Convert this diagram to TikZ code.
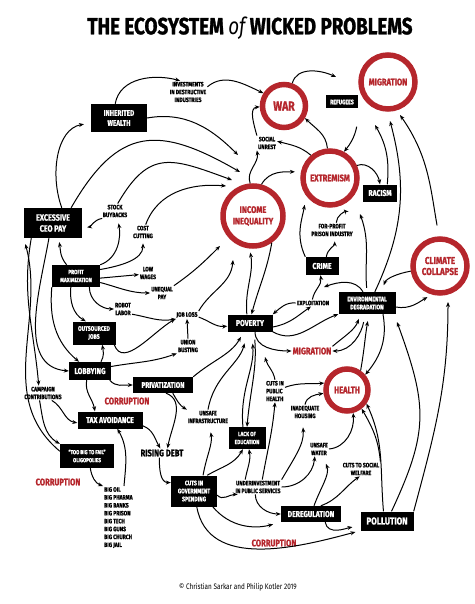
\documentclass[tikz,border=0pt]{standalone}
\usepackage{fontspec}
\setmainfont{Fira Sans}[FakeStretch=0.8,BoldFeatures={FakeBold=1.2}]
\usetikzlibrary{arrows.meta,positioning}
\definecolor{Wred}{HTML}{B5262C}

\tikzset{
  ring/.style={circle,draw=Wred,line width=5.5pt,fill=white,text=Wred,align=center,inner sep=0pt,
    font=\bfseries\fontsize{9.5}{11.5}\selectfont},
  blackbox/.style={fill=black,text=white,align=center,inner sep=1pt,
    font=\bfseries\fontsize{6.5}{8}\selectfont},
  lbl/.style={align=center,inner sep=1pt,font=\bfseries\fontsize{6.3}{7.8}\selectfont},
  redlbl/.style={text=Wred,inner sep=1pt,font=\bfseries\fontsize{9.5}{10}\selectfont},
  arr/.style={-{Stealth[length=5pt,width=4pt]},line width=1pt},
}

\begin{document}
\begin{tikzpicture}[x=1pt,y=1pt]
\useasboundingbox (0,0) rectangle (474,-604);

% title
\node (title) at (250,-28) {\fontsize{23.5}{26}\selectfont\bfseries THE ECOSYSTEM {\mdseries\itshape of} WICKED PROBLEMS};

% the big problems
\node[ring,minimum size=43pt,font=\bfseries\fontsize{13}{14}\selectfont] (war) at (284,-106) {WAR};
\node[ring,minimum size=54pt] (mig) at (388,-82) {MIGRATION};
\node[ring,minimum size=54pt] (ext) at (330,-178) {EXTREMISM};
\node[ring,minimum size=60pt] (ineq) at (253,-216) {INCOME\\INEQUALITY};
\node[ring,minimum size=54pt,font=\bfseries\fontsize{10}{11}\selectfont] (clim) at (440,-266) {CLIMATE\\COLLAPSE};
\node[ring,minimum size=42pt] (health) at (347,-390) {HEALTH};

% black boxes
\node[blackbox,minimum width=56pt,minimum height=28pt,font=\bfseries\fontsize{8}{10}\selectfont] (wealth) at (119,-118) {INHERITED\\WEALTH};
\node[blackbox,minimum width=32pt,minimum height=13pt,font=\bfseries\fontsize{6.5}{7}\selectfont] (refug) at (342,-102) {REFUGEES};
\node[blackbox,minimum width=58pt,minimum height=30pt,font=\bfseries\fontsize{9}{11}\selectfont] (ceo) at (53,-223) {EXCESSIVE\\CEO PAY};
\node[blackbox,minimum width=34pt,minimum height=17pt,font=\bfseries\fontsize{8.5}{9}\selectfont] (racism) at (380,-193) {RACISM};
\node[blackbox,minimum width=33pt,minimum height=18pt,font=\bfseries\fontsize{8.5}{9}\selectfont] (crime) at (322,-266) {CRIME};
\node[blackbox,minimum width=48pt,minimum height=22pt,font=\bfseries\fontsize{6}{8}\selectfont] (profit) at (76,-276) {PROFIT\\MAXIMIZATION};
\node[blackbox,minimum width=57pt,minimum height=22pt] (envdeg) at (367,-303) {ENVIRONMENTAL\\DEGRADATION};
\node[blackbox,minimum width=43pt,minimum height=23pt] (outsrc) at (94,-333) {OUTSOURCED\\JOBS};
\node[blackbox,minimum width=45pt,minimum height=17pt,font=\bfseries\fontsize{8.5}{9}\selectfont] (pov) at (250,-323) {POVERTY};
\node[blackbox,minimum width=42pt,minimum height=18pt,font=\bfseries\fontsize{8.5}{9}\selectfont] (lobby) at (90,-371) {LOBBYING};
\node[blackbox,minimum width=60pt,minimum height=16pt,font=\bfseries\fontsize{8}{9}\selectfont] (priv) at (163,-385) {PRIVATIZATION};
\node[blackbox,minimum width=65pt,minimum height=17pt,font=\bfseries\fontsize{8.5}{9}\selectfont] (tax) at (110,-420) {TAX AVOIDANCE};
\node[blackbox,minimum width=54pt,minimum height=24pt,font=\bfseries\fontsize{5.8}{8}\selectfont] (bigfail) at (87,-456) {“TOO BIG TO FAIL”\\OLIGOPOLIES};
\node[blackbox,minimum width=37pt,minimum height=22pt,font=\bfseries\fontsize{6}{8}\selectfont] (lackedu) at (247,-438) {LACK OF\\EDUCATION};
\node[blackbox,minimum width=46pt,minimum height=31pt] (cutsgov) at (194,-491) {CUTS IN\\GOVERNMENT\\SPENDING};
\node[blackbox,minimum width=60pt,minimum height=16pt,font=\bfseries\fontsize{8.5}{9}\selectfont] (dereg) at (311,-514) {DEREGULATION};
\node[blackbox,minimum width=53pt,minimum height=19pt,font=\bfseries\fontsize{10}{11}\selectfont] (poll) at (387,-521) {POLLUTION};

% plain labels
\node[lbl] (invest) at (188,-92) {INVESTMENTS\\IN DESTRUCTIVE\\INDUSTRIES};
\node[lbl] (unrest) at (267,-143) {SOCIAL\\UNREST};
\node[lbl] (buyback) at (115,-211) {STOCK\\BUYBACKS};
\node[lbl] (costcut) at (143,-232) {COST\\CUTTING};
\node[lbl] (prison) at (332,-230) {FOR-PROFIT\\PRISON INDUSTRY};
\node[lbl] (lowwage) at (148,-273) {LOW\\WAGES};
\node[lbl] (unequal) at (162,-293) {UNEQUAL\\PAY};
\node[lbl] (robot) at (123,-309) {ROBOT\\LABOR};
\node[lbl] (jobloss) at (187,-315) {JOB LOSS};
\node[lbl] (exploit) at (313,-303) {EXPLOITATION};
\node[lbl] (union) at (188,-346) {UNION\\BUSTING};
\node[redlbl] (migtxt) at (312,-351) {MIGRATION};
\node[lbl] (campaign) at (43,-393) {CAMPAIGN\\CONTRIBUTIONS};
\node[redlbl] (corrA) at (127,-401) {CORRUPTION};
\node[lbl,align=left] (pubhealth) at (275,-391) {CUTS IN\\PUBLIC\\HEALTH};
\node[lbl] (housing) at (305,-412) {INADEQUATE\\HOUSING};
\node[lbl] (infra) at (208,-417) {UNSAFE\\INFRASTRUCTURE};
\node[lbl,font=\bfseries\fontsize{9.5}{10}\selectfont] (debt) at (162,-453) {RISING DEBT};
\node[redlbl] (corrB) at (58,-482) {CORRUPTION};
\node[lbl,align=left,anchor=north west,font=\bfseries\fontsize{6.3}{7.9}\selectfont] (biglist) at (103,-486)
  {BIG OIL\\BIG PHARMA\\BIG BANKS\\BIG PRISON\\BIG TECH\\BIG GUNS\\BIG CHURCH\\BIG JAIL};
\node[lbl] (water) at (319,-449) {UNSAFE\\WATER};
\node[lbl] (welfare) at (361,-469) {CUTS TO SOCIAL\\WELFARE};
\node[lbl] (underinv) at (258,-487) {UNDERINVESTMENT\\IN PUBLIC SERVICES};
\node[redlbl] (corrC) at (274,-543) {CORRUPTION};
\node[font=\fontsize{8}{9}\selectfont] (credit) at (238,-587) {© Christian Sarkar and Philip Kotler 2019};

% free arrow ends
\coordinate (refin) at (336,-77);
\coordinate (tipA) at (238,-155);
\coordinate (tipB) at (240,-172);
\coordinate (tipC) at (232,-180);
\coordinate (tipD) at (226,-186);
\coordinate (tipE) at (233,-260);
\coordinate (tipF) at (220,-246);
\coordinate (migA) at (375,-125);
\coordinate (migB) at (390,-121);
\coordinate (migC) at (400,-115);
\coordinate (extA) at (360,-214);
\coordinate (climA) at (448,-302);
\coordinate (envA) at (397,-322);
\coordinate (crimeA) at (324,-287);
\coordinate (povA) at (265,-357);

% top
\draw[arr] (wealth.105) to[out=80,in=165] (invest.125);
\draw[arr] (invest.15) to[out=40,in=155] (war.148);
\draw[arr] (war.70) to[out=75,in=155] (refin);
\draw[arr] (unrest.north west) to[out=105,in=185] (war.182);
\draw[arr] (ext.130) to[out=140,in=-15] (unrest.10);
\draw[arr] (ext.95) to[out=95,in=-45] (war.-30);
\draw[arr,shorten <=18pt] (refug.south east) to[out=-95,in=50] (ext.62);
\draw[arr] (ext.25) to[out=20,in=100] (racism.north);
\draw[arr] (racism.50) to[out=85,in=-60] (migA);
\draw[arr] (envdeg.55) to[out=65,in=-75] (migB);
\draw[arr,shorten <=11pt] (clim.92) to[out=100,in=-55] (migC);
\draw[arr] (poll.north east) to[out=75,in=-90] (climA);
\draw[arr] (poll.65) to[out=65,in=-70,looseness=1.2] (envA);

% into income inequality
\draw[arr] (wealth.east) to[out=10,in=135] (tipA);
\draw[arr] (ceo.40) to[out=60,in=150,looseness=1.4] (tipB);
\draw[arr] (buyback.70) to[out=60,in=160,looseness=1.4] (tipC);
\draw[arr] (costcut.70) to[out=70,in=175] (tipD);
\draw[arr] (jobloss.north east) to[out=60,in=-95] (tipE);
\draw[arr] (unequal.north east) to[out=35,in=-135] (tipF);
\draw[arr] (ineq.95) to[out=110,in=-80] (unrest.south west);
\draw[arr,shorten >=6pt] (ineq.75) to[out=60,in=180] (ext.168);
\draw[arr] (ineq.-55) to[out=-100,in=75] (pov.80);
\draw[arr,shorten >=4pt] (pov.110) to[out=95,in=-80] (ineq.-96);

% crime and extremism
\draw[arr,shorten >=9pt] (crime.north west) to[out=115,in=-100] (ext.217);
\draw[arr,shorten >=4pt] (crime.65) to[out=80,in=-90] (prison.-70);
\draw[arr,shorten >=5pt] (prison.60) to[out=90,in=-45] (ext.-70);
\draw[arr,shorten <=4pt] (envdeg.north) to[out=95,in=-70] (extA);
\draw[arr] (envdeg.110) to[out=120,in=20] (crimeA);
\draw[arr] (exploit.100) to[out=80,in=-80] (crime.-100);
\draw[arr] (exploit.west) to[out=175,in=40] (pov.north east);
\draw[arr] (pov.-10) to[out=10,in=215] (exploit.-120);

% environment and health
\draw[arr] (pov.south east) to[out=-30,in=200] (envdeg.south west);
\draw[arr] (pov.-60) to[out=-90,in=180] (migtxt.west);
\draw[arr,shorten >=5pt] (migtxt.north east) to[out=40,in=-110] (envdeg.-120);
\draw[arr,shorten <=8pt] (envdeg.-100) to[out=-100,in=0] (migtxt.east);
\draw[arr,shorten >=5pt] (envdeg.-8) to[out=-10,in=210] (clim.254);
\draw[arr,shorten >=7pt] (clim.190) to[out=190,in=70] (envdeg.38);
\draw[arr] (envdeg.-35) to[out=-80,in=50] (health.40);
\draw[arr,shorten >=7pt] (health.55) to[out=80,in=-100] (envdeg.-80);
\draw[arr] (poll.110) to[out=95,in=-65] (health.-35);
\draw[arr] (welfare.north east) to[out=95,in=-60] (health.-52);
\draw[arr] (water.east) to[out=5,in=-85] (health.-75);
\draw[arr] (pubhealth.20) to[out=20,in=185] (health.163);
\draw[arr] (housing.north) to[out=80,in=190] (health.188);

% left side
\draw[arr,shorten >=7pt] (ceo.60) to[out=110,in=190] (wealth.190);
\draw[arr,shorten >=5pt] (buyback.-150) to[out=190,in=10] (ceo.-10);
\draw[arr,shorten >=5pt] (profit.north east) to[out=20,in=-80] (buyback.-70);
\draw[arr,shorten >=4pt] (profit.15) to[out=10,in=-90] (costcut.south);
\draw[arr,shorten >=4pt] (profit.130) to[out=130,in=-80] (ceo.-70);
\draw[arr] (profit.-5) -- (lowwage.-170);
\draw[arr] (profit.-15) to[out=-15,in=180] (unequal.west);
\draw[arr] (profit.-40) to[out=-90,in=180] (robot.west);
\draw[arr] (profit.-115) to[out=-95,in=150] (outsrc.125);
\draw[arr] (profit.south west) to[out=-95,in=140] (lobby.140);
\draw[arr] (ceo.-105) to[out=-100,in=175] (lobby.west);
\draw[arr] (ceo.-145) to[out=-100,in=95] (campaign.120);
\draw[arr,shorten >=6pt] (bigfail.170) to[out=140,in=-75] (ceo.south west);
\draw[arr] (campaign.-115) to[out=-80,in=150] (bigfail.north west);
\draw[arr] (campaign.-40) to[out=-30,in=170] (tax.185);
\draw[arr] (lobby.-110) to[out=-100,in=100] (tax.150);
\draw[arr] (lobby.40) to[out=60,in=-80] (outsrc.-55);
\draw[arr] (outsrc.-30) to[out=-70,in=210] (jobloss.south west);
\draw[arr] (robot.-30) to[out=-10,in=190] (jobloss.200);
\draw[arr] (union.north) -- (jobloss.south);
\draw[arr] (lobby.12) to[out=10,in=200] (union.south west);
\draw[arr] (lobby.-25) to[out=-50,in=180] (priv.west);
\draw[arr] (jobloss.-10) to[out=-20,in=185] (pov.188);

% below poverty
\draw[arr,shorten >=6pt] (priv.north east) to[out=40,in=-120] (pov.-125);
\draw[arr,shorten >=12pt] (infra.north) to[out=80,in=-105] (pov.-105);
\draw[arr,shorten >=12pt] (lackedu.110) to[out=95,in=-85] (pov.-80);
\draw[arr,shorten <=8pt] (pov.-65) to[out=-85,in=85] (lackedu.north);
\draw[arr] (pubhealth.north) to[out=100,in=-75] (povA);
\draw[arr] (priv.-70) to[out=-20,in=80] (debt.40);
\draw[arr] (tax.-10) to[out=-20,in=120] (debt.110);
\draw[arr] (priv.-40) to[out=-60,in=150] (infra.north west);
\draw[arr] (debt.-120) to[out=-90,in=180] (cutsgov.160);
\draw[arr,shorten >=8pt] (cutsgov.60) to[out=80,in=-80] (infra.-80);
\draw[arr] (cutsgov.50) to[out=30,in=-120] (lackedu.-110);
\draw[arr] (underinv.150) to[out=80,in=-80] (lackedu.-80);
\draw[arr] (underinv.60) to[out=80,in=-95] (pubhealth.south);
\draw[arr,shorten >=8pt] (underinv.north east) to[out=60,in=-85] (housing.-110);
\draw[arr] (underinv.east) to[out=0,in=-95] (water.-120);
\draw[arr] (underinv.-110) to[out=-90,in=180] (dereg.west);
\draw[arr] (cutsgov.-10) to[out=-50,in=180] (underinv.-160);
\draw[arr,shorten >=8pt] (cutsgov.-40) to[out=-50,in=195] (dereg.south west);
\draw[arr,shorten >=5pt] (cutsgov.-80) to[out=-80,in=195] (poll.south west);
\draw[arr,shorten >=8pt] (dereg.-30) to[out=-80,in=190] (poll.190);
\draw[arr,shorten >=8pt] (dereg.70) to[out=70,in=-70] (water.-60);
\draw[arr] (dereg.40) to[out=20,in=215] (welfare.-100);
\draw[arr] (biglist.80) to[out=85,in=-60] (tax.-50);
\draw[arr] (bigfail.-75) to[out=-80,in=160] (biglist.north west);
\end{tikzpicture}
\end{document}
